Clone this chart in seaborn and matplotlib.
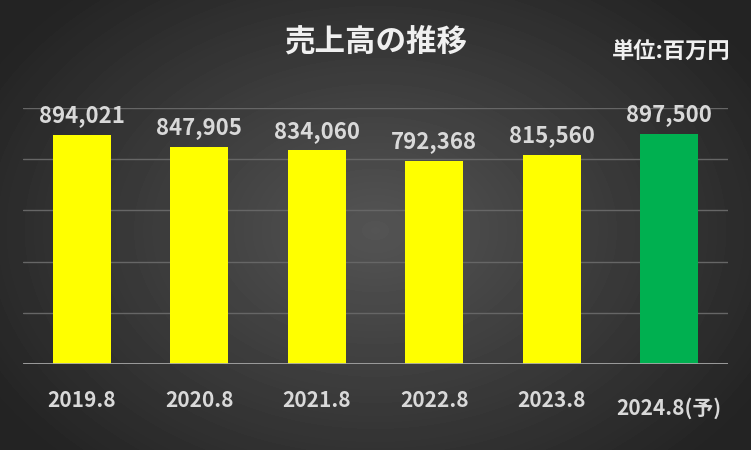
import numpy as np
import pandas as pd
import seaborn as sns
import matplotlib.pyplot as plt
import matplotlib.transforms as mtransforms

years = ["2019.8", "2020.8", "2021.8", "2022.8", "2023.8", "2024.8(予)"]
sales = [894021, 847905, 834060, 792368, 815560, 897500]
bar_colors = ["#FFFF00", "#FFFF00", "#FFFF00", "#FFFF00", "#FFFF00", "#00B050"]
grid_values = [200000, 400000, 600000, 800000, 1000000]

sns.set_theme(style="white")
plt.rcParams["font.family"] = ["Noto Sans CJK JP", "DejaVu Sans"]

fig = plt.figure(figsize=(7.51, 4.5), dpi=100)

# radial gradient background
bg = fig.add_axes([0, 0, 1, 1], zorder=0)
yy, xx = np.mgrid[0:450, 0:751]
r = np.sqrt(((xx - 375) / 420.0) ** 2 + ((yy - 230) / 300.0) ** 2)
shade = np.clip(0.33 - 0.18 * r, 0.14, 0.33)
bg.imshow(shade, cmap="gray", vmin=0, vmax=1, aspect="auto", interpolation="bilinear")
bg.set_axis_off()

ax = fig.add_axes([23 / 751, 86 / 450, 705 / 751, 256 / 450], zorder=1)
ax.patch.set_alpha(0)

df = pd.DataFrame({"year": years, "sales": sales})
sns.barplot(data=df, x="year", y="sales", hue="year", palette=bar_colors,
            legend=False, width=0.49, saturation=1, linewidth=0, ax=ax, zorder=3)

for v in grid_values:
    ax.axhline(v, color="#666666", lw=1, zorder=1)
ax.axhline(0, color="#a6a6a6", lw=2, zorder=4)

ax.set_xlim(-0.5, 5.5)
ax.set_ylim(0, 1000000)
ax.set_yticks([])
ax.set_xlabel("")
ax.set_ylabel("")
for s in ax.spines.values():
    s.set_visible(False)

for i, v in enumerate(sales):
    ax.text(i, v + 30000, f"{v:,}", ha="center", va="bottom", fontsize=16,
            fontweight="bold", color="#d9d9d9")

ax.set_xticks(range(len(years)))
ax.set_xticklabels(years, fontsize=15, fontweight="bold", color="#d9d9d9")
ax.tick_params(axis="x", length=0, pad=19)
last = ax.get_xticklabels()[-1]
last.set_transform(last.get_transform() +
                   mtransforms.ScaledTranslation(0, -7 / 100, fig.dpi_scale_trans))

fig.text(0.5, 0.907, "売上高の推移", ha="center", va="center", fontsize=22,
         fontweight="bold", color="#f0f0f0")
fig.text(0.973, 0.883, "単位:百万円", ha="right", va="center", fontsize=16,
         fontweight="bold", color="#f0f0f0")

fig.savefig("out.png", dpi=100)
